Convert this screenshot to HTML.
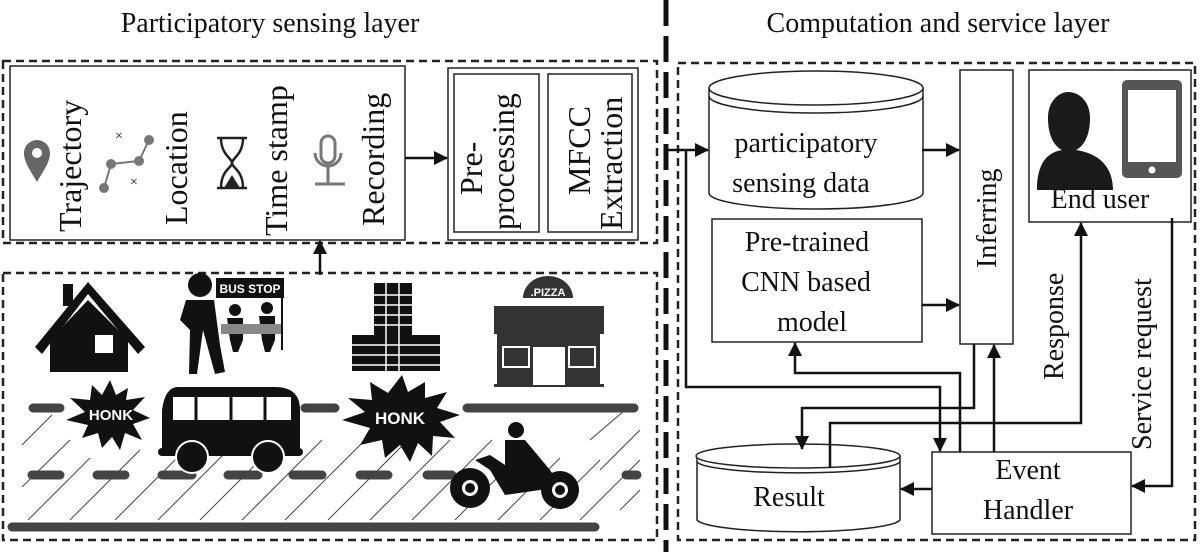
<!DOCTYPE html>
<html><head><meta charset="utf-8"><style>
html,body{margin:0;padding:0;background:#fff}
svg{display:block}
text{font-family:"Liberation Serif",serif;fill:#111}
.s{font-family:"Liberation Sans",sans-serif;font-weight:bold;fill:#fff}
</style></head><body>
<svg width="1200" height="552" viewBox="0 0 1200 552" xmlns="http://www.w3.org/2000/svg">
<defs>
<marker id="b" markerWidth="14" markerHeight="14" refX="13" refY="7" orient="auto" markerUnits="userSpaceOnUse"><path d="M0,0 L14,7 L0,14 z" fill="#111"/></marker>
</defs>
<text x="270" y="32" font-size="28" text-anchor="middle">Participatory sensing layer</text>
<text x="938" y="32" font-size="28" text-anchor="middle">Computation and service layer</text>
<line x1="666" y1="0" x2="666" y2="552" stroke="#111" stroke-width="5" stroke-dasharray="26,10"/>
<g fill="none" stroke="#222" stroke-width="2.5" stroke-dasharray="8,5">
<rect x="3" y="61" width="654" height="182"/>
<rect x="3" y="273" width="654" height="267"/>
<rect x="678" y="63" width="517" height="477"/>
</g>
<g fill="none" stroke="#222" stroke-width="1.5">
<rect x="10" y="66" width="395" height="174"/>
<rect x="448" y="68" width="190" height="172"/>
<rect x="454" y="74" width="85" height="158"/>
<rect x="548" y="74" width="84" height="158"/>
</g>
<line x1="405" y1="158" x2="447" y2="158" stroke="#111" stroke-width="2.5" marker-end="url(#b)"/>
<line x1="320" y1="275" x2="320" y2="241" stroke="#111" stroke-width="2.5" marker-end="url(#b)"/>
<g font-size="32">
<text transform="translate(81,232) rotate(-90)">Trajectory</text>
<text transform="translate(187,225) rotate(-90)">Location</text>
<text transform="translate(287,236) rotate(-90)">Time stamp</text>
<text transform="translate(384,226) rotate(-90)">Recording</text>
<text transform="translate(482,195) rotate(-90)">Pre-</text>
<text transform="translate(514,230) rotate(-90)">processing</text>
<text transform="translate(590,195) rotate(-90)">MFCC</text>
<text transform="translate(622,230) rotate(-90)">Extraction</text>
</g>
<path d="M37,182 C30,170 24,162 24,153 A13,13 0 0 1 50,153 C50,162 44,170 37,182z" fill="#666"/>
<circle cx="37" cy="153" r="5" fill="#fff"/>
<g stroke="#777" stroke-width="2" fill="#777">
<polyline points="104,188 111,164 139,161 149,140" fill="none"/><circle cx="104" cy="188" r="4"/><circle cx="111" cy="164" r="4"/><circle cx="139" cy="161" r="4"/><circle cx="149" cy="140" r="4"/>
<text x="115" y="140" font-size="14" fill="#777" stroke="none" font-family="Liberation Sans">×</text><text x="130" y="186" font-size="14" fill="#777" stroke="none" font-family="Liberation Sans">×</text></g>
<g stroke="#222" stroke-width="2.5" fill="none"><line x1="217" y1="138" x2="247" y2="138"/><line x1="217" y1="188" x2="247" y2="188"/><path d="M221,138 C221,155 232,158 232,163 C232,168 221,170 221,188 M243,138 C243,155 232,158 232,163 C232,168 243,170 243,188"/></g>
<path d="M224,188 L232,175 L240,188z" fill="#222"/>
<g stroke="#777" stroke-width="3" fill="none"><rect x="321" y="136" width="14" height="27" rx="7"/><path d="M315,153 A13,13 0 0 0 341,153"/><line x1="328" y1="166" x2="328" y2="184"/><line x1="315" y1="184" x2="345" y2="184"/></g>
<path d="M35,347 L88,282 L145,347 L138,354 L88,294 L42,354z" fill="#111"/>
<rect x="63" y="284" width="10" height="22" fill="#111"/>
<path d="M50,340 L88,300 L128,340 L128,372 L50,372z" fill="#111"/>
<rect x="95" y="335" width="18" height="18" fill="#fff"/>
<circle cx="200" cy="285" r="12" fill="#111"/>
<path d="M186,300 L214,300 L220,345 L225,372 L215,374 L203,330 L197,374 L189,374 L190,330 L180,320 Z" fill="#111"/>
<rect x="216" y="278" width="68" height="20" fill="#111"/><text x="250" y="293" class="s" font-size="12" text-anchor="middle">BUS STOP</text>
<line x1="282" y1="298" x2="282" y2="350" stroke="#111" stroke-width="2"/>
<circle cx="235" cy="310" r="6" fill="#111"/><path d="M227,318 L243,318 L243,340 L238,352 L233,352 L230,340Z" fill="#111"/>
<circle cx="267" cy="308" r="6" fill="#111"/><path d="M259,316 L275,316 L275,340 L270,352 L265,352 L262,340Z" fill="#111"/>
<rect x="221" y="324" width="60" height="10" fill="#888"/>
<g fill="#111"><rect x="374" y="283" width="38" height="88"/><rect x="352" y="335" width="88" height="36"/></g>
<g stroke="#fff" stroke-width="1.5"><line x1="374" y1="295" x2="412" y2="295"/><line x1="374" y1="305" x2="412" y2="305"/><line x1="374" y1="315" x2="412" y2="315"/><line x1="374" y1="325" x2="412" y2="325"/><line x1="352" y1="345" x2="440" y2="345"/><line x1="352" y1="355" x2="440" y2="355"/><line x1="352" y1="365" x2="440" y2="365"/><line x1="386" y1="283" x2="386" y2="371"/><line x1="399" y1="283" x2="399" y2="371"/></g>
<path d="M523,298 A25,22 0 0 1 573,298z" fill="#333"/><text x="548" y="296" class="s" font-size="11" text-anchor="middle">.PIZZA</text>
<rect x="494" y="306" width="110" height="28" fill="#333"/>
<rect x="497" y="334" width="103" height="50" fill="#333"/>
<rect x="494" y="384" width="110" height="3" fill="#333"/>
<rect x="503" y="347" width="26" height="20" fill="none" stroke="#fff" stroke-width="2"/>
<rect x="569" y="347" width="26" height="20" fill="none" stroke="#fff" stroke-width="2"/>
<rect x="533" y="347" width="32" height="38" fill="#fff"/>
<g stroke="#444" stroke-width="9" stroke-linecap="round">
<line x1="33" y1="408" x2="60" y2="408"/><line x1="305" y1="408" x2="335" y2="408"/><line x1="467" y1="408" x2="634" y2="408"/>
<line x1="32" y1="475" x2="60" y2="475"/><line x1="97" y1="475" x2="125" y2="475"/><line x1="162" y1="475" x2="192" y2="475"/><line x1="228" y1="475" x2="258" y2="475"/><line x1="293" y1="475" x2="322" y2="475"/><line x1="360" y1="475" x2="388" y2="475"/><line x1="427" y1="475" x2="452" y2="475"/><line x1="626" y1="475" x2="637" y2="475"/>
<line x1="12" y1="527" x2="595" y2="527"/></g>
<g stroke="#444" stroke-width="1">
<path d="M22,445 L52,415 M22,487 L70,440 M28,520 L90,458 M70,520 L140,450 M115,520 L185,450 M158,520 L228,450 M200,520 L280,440 M242,520 L322,440 M285,520 L365,440 M328,520 L408,440 M370,520 L450,440 M412,520 L492,440 M455,520 L520,455 M498,520 L560,458 M540,520 L600,460 M580,520 L640,460 M600,470 L640,430 M590,440 L625,410 M620,510 L640,490"/></g>
<path d="M110,380 L116,395 L128,388 L126,400 L145,397 L133,410 L150,418 L133,424 L142,440 L125,433 L120,450 L112,437 L102,448 L98,433 L82,438 L88,425 L66,420 L85,412 L70,398 L90,400 L92,385 L102,395z" fill="#111"/>
<text x="111" y="420" class="s" font-size="15" text-anchor="middle">HONK</text>
<path d="M402,375 L408,392 L425,382 L425,398 L447,392 L437,408 L460,415 L440,422 L455,438 L433,436 L432,456 L418,443 L410,462 L400,445 L385,458 L382,440 L360,445 L370,428 L342,420 L365,412 L348,398 L372,400 L370,382 L388,393z" fill="#111"/>
<text x="400" y="424" class="s" font-size="17" text-anchor="middle">HONK</text>
<path d="M178,387 L275,387 Q300,387 300,410 L300,450 L162,450 L162,410 Q165,387 178,387z" fill="#111"/>
<rect x="173" y="397" width="118" height="23" fill="#fff"/>
<g stroke="#111" stroke-width="3"><line x1="196" y1="397" x2="196" y2="420"/><line x1="231" y1="397" x2="231" y2="420"/><line x1="265" y1="397" x2="265" y2="420"/></g>
<rect x="158" y="448" width="145" height="8" rx="4" fill="#111"/>
<circle cx="192" cy="457" r="16" fill="#111" stroke="#fff" stroke-width="2"/><circle cx="268" cy="457" r="16" fill="#111" stroke="#fff" stroke-width="2"/>
<circle cx="516" cy="430" r="8" fill="#111"/>
<path d="M505,440 L525,440 L550,470 L560,485 L540,490 L505,495 L490,470 L475,460 L490,455 L505,465z" fill="#111"/>
<circle cx="470" cy="488" r="20" fill="#111"/><circle cx="470" cy="488" r="8" fill="#fff"/><circle cx="470" cy="488" r="5" fill="#111"/>
<circle cx="560" cy="490" r="19" fill="#111"/><circle cx="560" cy="490" r="8" fill="#fff"/><circle cx="560" cy="490" r="5" fill="#111"/>
<g fill="#fff" stroke="#222" stroke-width="1.5">
<path d="M709,88 L709,193 A107,16 0 0 0 923,193 L923,88"/>
<ellipse cx="816" cy="88" rx="107" ry="17"/>
<path d="M709,96 A107,17 0 0 0 923,96" fill="none"/>
<path d="M697,456 L697,520 A102,13 0 0 0 900,520 L900,456"/>
<ellipse cx="798" cy="456" rx="102" ry="12"/>
<path d="M697,462 A102,12 0 0 0 900,462" fill="none"/>
<rect x="712" y="219" width="210" height="123"/>
<rect x="960" y="70" width="53" height="274"/>
<rect x="1029" y="70" width="162" height="152"/>
<rect x="932" y="452" width="199" height="82"/>
</g>
<path d="M1037,190 C1037,160 1050,152 1062,150 C1052,145 1048,132 1048,118 C1048,100 1060,92 1068,92 C1078,92 1090,100 1090,118 C1090,132 1086,145 1076,150 C1090,152 1113,160 1113,190Z" fill="#1a1a1a"/>
<rect x="1122" y="80" width="60" height="98" rx="5" fill="#555"/><rect x="1128" y="90" width="48" height="72" fill="#fff"/><circle cx="1152" cy="170" r="3.5" fill="#fff"/>
<g font-size="28">
<text x="806" y="152" text-anchor="middle">participatory</text>
<text x="801" y="192" text-anchor="middle">sensing data</text>
<text x="807" y="251" text-anchor="middle">Pre-trained</text>
<text x="806" y="291" text-anchor="middle">CNN based</text>
<text x="812" y="331" text-anchor="middle">model</text>
<text x="1100" y="208" text-anchor="middle">End user</text>
<text x="789" y="506" text-anchor="middle">Result</text>
<text x="1028" y="479" text-anchor="middle">Event</text>
<text x="1028" y="519" text-anchor="middle">Handler</text>
<text transform="translate(996,268) rotate(-90)">Inferring</text>
<text transform="translate(1063,380) rotate(-90)">Response</text>
<text transform="translate(1151,450) rotate(-90)">Service request</text>
</g>
<g stroke="#111" stroke-width="2.5" fill="none">
<line x1="666" y1="150" x2="708" y2="150" marker-end="url(#b)"/>
<line x1="922" y1="150" x2="959" y2="150" marker-end="url(#b)"/>
<line x1="922" y1="305" x2="959" y2="305" marker-end="url(#b)"/>
<polyline points="686,150 686,387 940,387 940,451" marker-end="url(#b)"/>
<polyline points="960,452 960,373 795,373 795,343" marker-end="url(#b)"/>
<polyline points="974,344 974,408 802,408 802,449" marker-end="url(#b)"/>
<line x1="994" y1="452" x2="994" y2="345" marker-end="url(#b)"/>
<polyline points="830,467 830,423 1081,423 1081,223" marker-end="url(#b)"/>
<polyline points="1172,218 1172,486 1132,486" marker-end="url(#b)"/>
<line x1="932" y1="489" x2="901" y2="489" marker-end="url(#b)"/>
</g>
</svg>
</body></html>
